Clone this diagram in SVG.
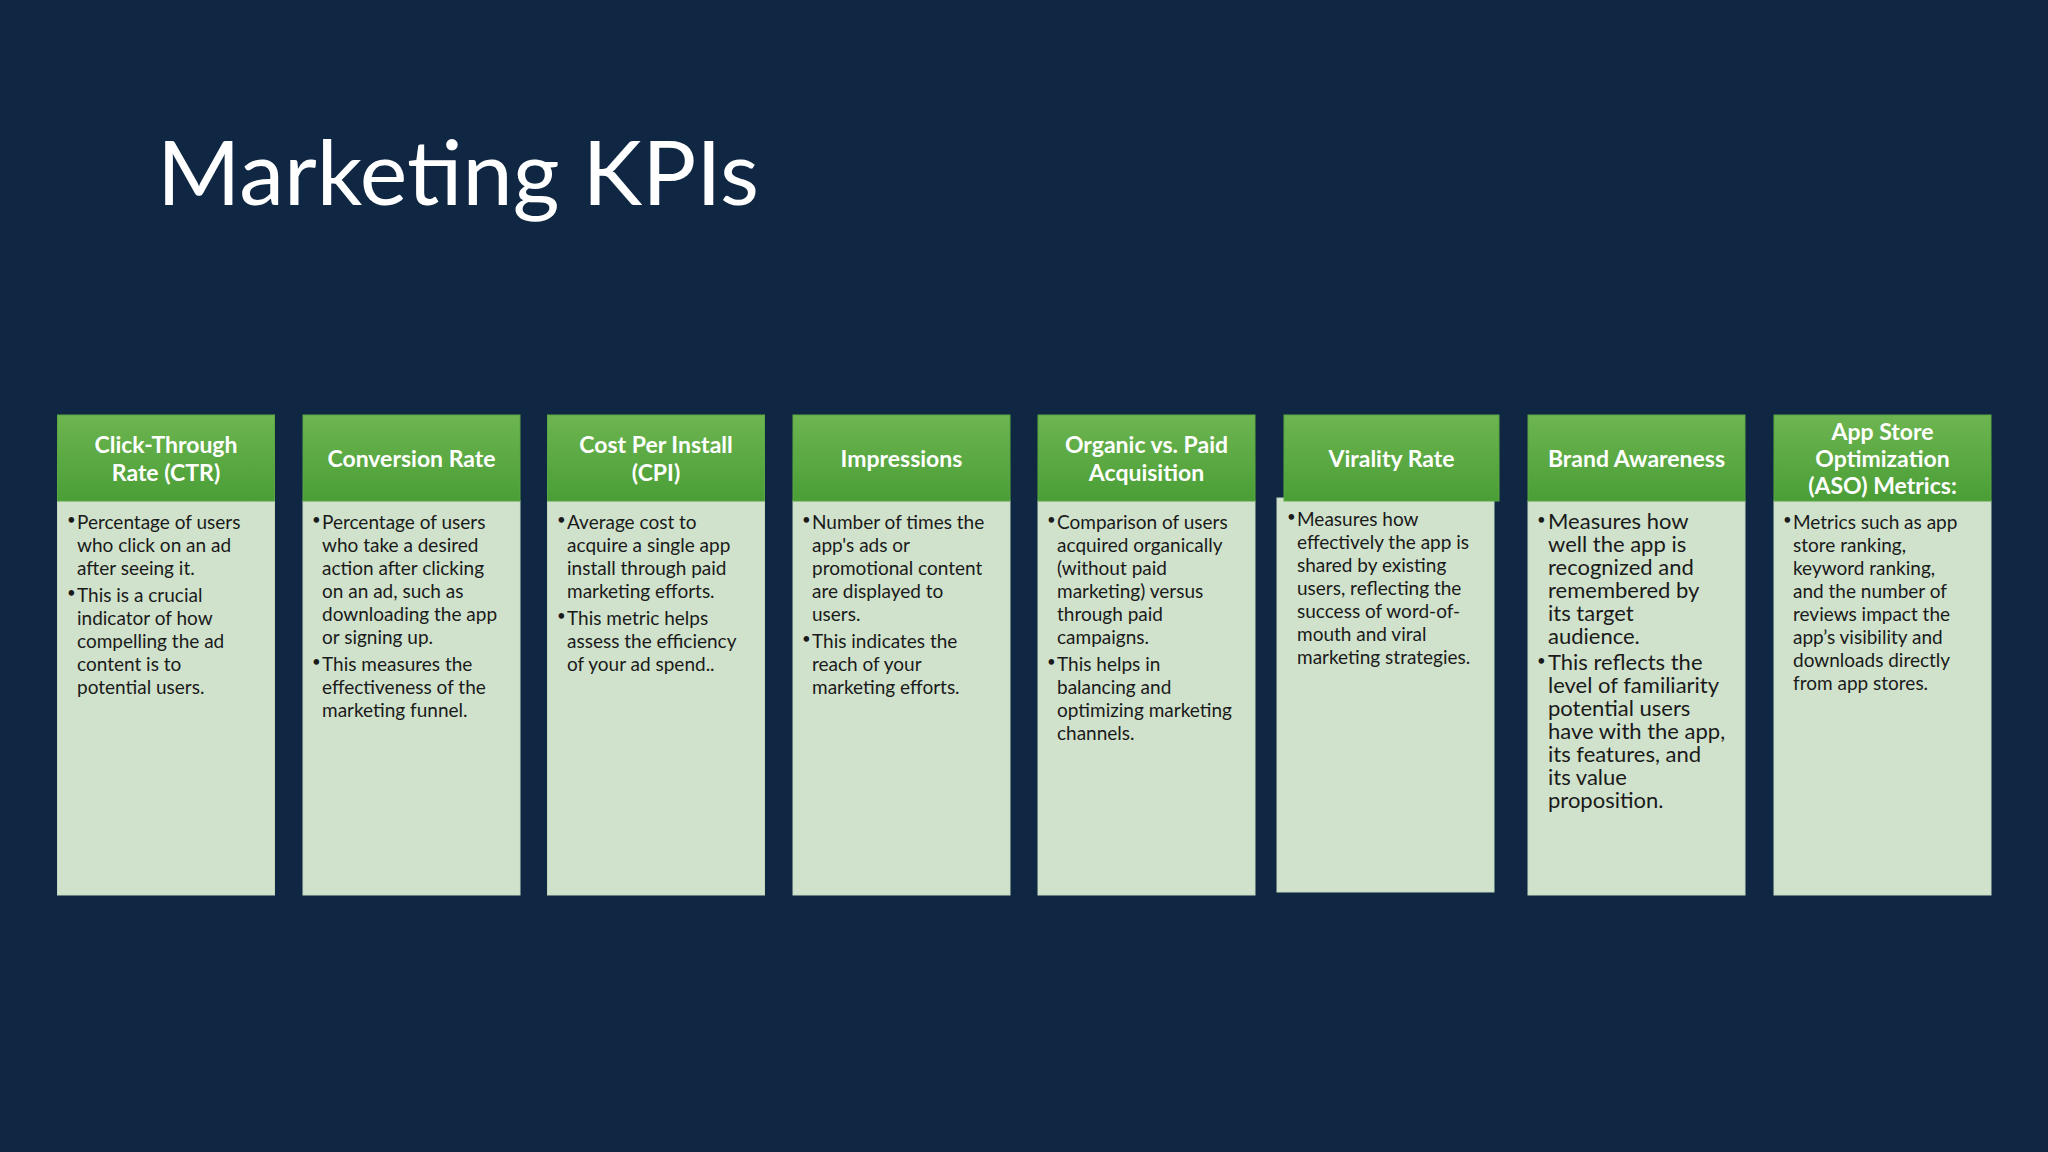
<svg xmlns="http://www.w3.org/2000/svg" width="2048" height="1152" viewBox="0 0 2048 1152">
<defs>
<linearGradient id="hg" x1="0" y1="0" x2="0" y2="1"><stop offset="0" stop-color="#6db550"/><stop offset="1" stop-color="#4a9e36"/></linearGradient>
<style>
.hd{fill:url(#hg);stroke:#5aa743;stroke-width:1}
.bd{fill:#d0e2cc;stroke:#c4d8c0;stroke-width:1}
.ht{font-family:Lato,"Open Sans",sans-serif;font-weight:bold;font-size:23px;fill:#fff;text-anchor:middle}
.bt{font-family:Lato,"Open Sans",sans-serif;font-size:19px;fill:#1a1a1a}
.bt2{font-family:Lato,"Open Sans",sans-serif;font-size:22px;fill:#1a1a1a}
.bu{font-family:Lato,sans-serif;font-size:15px;fill:#1a1a1a}
</style>
</defs>
<rect width="2048" height="1152" fill="#0f2742"/>
<text x="157" y="205" font-family="Lato,'Open Sans',sans-serif" font-size="90" fill="#fff">Marketing KPIs</text>

<g id="ctr">
<rect class="bd" x="57.5" y="501" width="217" height="394"/><rect class="hd" x="57.5" y="415" width="217" height="86"/>
<text class="ht" x="166" y="453">Click-Through</text><text class="ht" x="166" y="481">Rate (CTR)</text>
<text class="bu" x="67" y="525">•</text><text class="bu" x="67" y="598">•</text>
<text class="bt" x="77" y="529">Percentage of users</text><text class="bt" x="77" y="552">who click on an ad</text><text class="bt" x="77" y="575">after seeing it.</text><text class="bt" x="77" y="602">This is a crucial</text><text class="bt" x="77" y="625">indicator of how</text><text class="bt" x="77" y="648">compelling the ad</text><text class="bt" x="77" y="671">content is to</text><text class="bt" x="77" y="694">potential users.</text>
</g>

<g id="conv">
<rect class="bd" x="303" y="501" width="217" height="394"/><rect class="hd" x="303" y="415" width="217" height="86"/>
<text class="ht" x="411.5" y="467">Conversion Rate</text>
<text class="bu" x="312" y="525">•</text><text class="bu" x="312" y="667">•</text>
<text class="bt" x="322" y="529">Percentage of users</text><text class="bt" x="322" y="552">who take a desired</text><text class="bt" x="322" y="575">action after clicking</text><text class="bt" x="322" y="598">on an ad, such as</text><text class="bt" x="322" y="621">downloading the app</text><text class="bt" x="322" y="644">or signing up.</text><text class="bt" x="322" y="671">This measures the</text><text class="bt" x="322" y="694">effectiveness of the</text><text class="bt" x="322" y="717">marketing funnel.</text>
</g>

<g id="cpi">
<rect class="bd" x="547.5" y="501" width="217" height="394"/><rect class="hd" x="547.5" y="415" width="217" height="86"/>
<text class="ht" x="656" y="453">Cost Per Install</text><text class="ht" x="656" y="481">(CPI)</text>
<text class="bu" x="557" y="525">•</text><text class="bu" x="557" y="621">•</text>
<text class="bt" x="567" y="529">Average cost to</text><text class="bt" x="567" y="552">acquire a single app</text><text class="bt" x="567" y="575">install through paid</text><text class="bt" x="567" y="598">marketing efforts.</text><text class="bt" x="567" y="625">This metric helps</text><text class="bt" x="567" y="648">assess the efficiency</text><text class="bt" x="567" y="671">of your ad spend..</text>
</g>

<g id="impr">
<rect class="bd" x="793" y="501" width="217" height="394"/><rect class="hd" x="793" y="415" width="217" height="86"/>
<text class="ht" x="901.5" y="467">Impressions</text>
<text class="bu" x="802" y="525">•</text><text class="bu" x="802" y="644">•</text>
<text class="bt" x="812" y="529">Number of times the</text><text class="bt" x="812" y="552">app's ads or</text><text class="bt" x="812" y="575">promotional content</text><text class="bt" x="812" y="598">are displayed to</text><text class="bt" x="812" y="621">users.</text><text class="bt" x="812" y="648">This indicates the</text><text class="bt" x="812" y="671">reach of your</text><text class="bt" x="812" y="694">marketing efforts.</text>
</g>

<g id="organic">
<rect class="bd" x="1038" y="501" width="217" height="394"/><rect class="hd" x="1038" y="415" width="217" height="86"/>
<text class="ht" x="1146.5" y="453">Organic vs. Paid</text><text class="ht" x="1146.5" y="481">Acquisition</text>
<text class="bu" x="1047" y="525">•</text><text class="bu" x="1047" y="667">•</text>
<text class="bt" x="1057" y="529">Comparison of users</text><text class="bt" x="1057" y="552">acquired organically</text><text class="bt" x="1057" y="575">(without paid</text><text class="bt" x="1057" y="598">marketing) versus</text><text class="bt" x="1057" y="621">through paid</text><text class="bt" x="1057" y="644">campaigns.</text><text class="bt" x="1057" y="671">This helps in</text><text class="bt" x="1057" y="694">balancing and</text><text class="bt" x="1057" y="717">optimizing marketing</text><text class="bt" x="1057" y="740">channels.</text>
</g>

<g id="virality">
<rect class="bd" x="1277" y="498" width="217" height="394"/><rect class="hd" x="1284" y="415" width="215" height="86"/>
<text class="ht" x="1391.5" y="467">Virality Rate</text>
<text class="bu" x="1287" y="522">•</text>
<text class="bt" x="1297" y="526">Measures how</text><text class="bt" x="1297" y="549">effectively the app is</text><text class="bt" x="1297" y="572">shared by existing</text><text class="bt" x="1297" y="595">users, reflecting the</text><text class="bt" x="1297" y="618">success of word-of-</text><text class="bt" x="1297" y="641">mouth and viral</text><text class="bt" x="1297" y="664">marketing strategies.</text>
</g>

<g id="brand">
<rect class="bd" x="1528" y="501" width="217" height="394"/><rect class="hd" x="1528" y="415" width="217" height="86"/>
<text class="ht" x="1636.5" y="467">Brand Awareness</text>
<text class="bu" x="1537" y="525">•</text><text class="bu" x="1537" y="666">•</text>
<text class="bt2" x="1548" y="529">Measures how</text><text class="bt2" x="1548" y="552">well the app is</text><text class="bt2" x="1548" y="575">recognized and</text><text class="bt2" x="1548" y="598">remembered by</text><text class="bt2" x="1548" y="621">its target</text><text class="bt2" x="1548" y="644">audience.</text><text class="bt2" x="1548" y="670">This reflects the</text><text class="bt2" x="1548" y="693">level of familiarity</text><text class="bt2" x="1548" y="716">potential users</text><text class="bt2" x="1548" y="739">have with the app,</text><text class="bt2" x="1548" y="762">its features, and</text><text class="bt2" x="1548" y="785">its value</text><text class="bt2" x="1548" y="808">proposition.</text>
</g>

<g id="aso">
<rect class="bd" x="1774" y="501" width="217" height="394"/><rect class="hd" x="1774" y="415" width="217" height="86"/>
<text class="ht" x="1882.5" y="440">App Store</text><text class="ht" x="1882.5" y="467">Optimization</text><text class="ht" x="1882.5" y="494">(ASO) Metrics:</text>
<text class="bu" x="1783" y="525">•</text>
<text class="bt" x="1793" y="529">Metrics such as app</text><text class="bt" x="1793" y="552">store ranking,</text><text class="bt" x="1793" y="575">keyword ranking,</text><text class="bt" x="1793" y="598">and the number of</text><text class="bt" x="1793" y="621">reviews impact the</text><text class="bt" x="1793" y="644">app’s visibility and</text><text class="bt" x="1793" y="667">downloads directly</text><text class="bt" x="1793" y="690">from app stores.</text>
</g>
<g id="connectors"/>
</svg>
